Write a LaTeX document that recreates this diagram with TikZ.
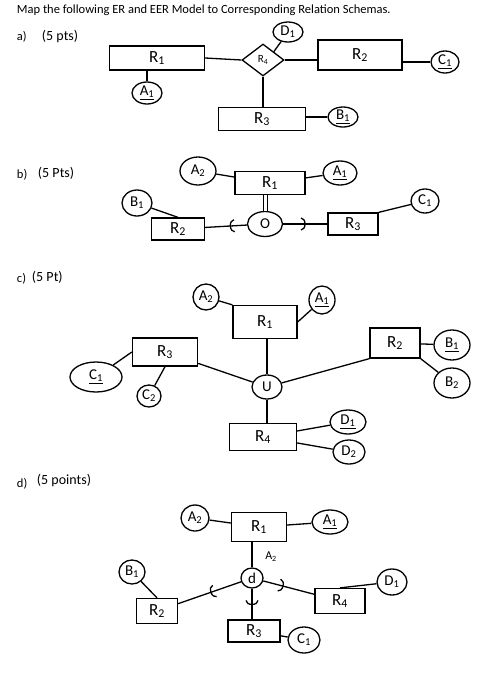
\documentclass[tikz,border=0pt]{standalone}
\usepackage{fontspec}
\setmainfont{Carlito}
\usetikzlibrary{shapes.geometric,decorations.markings}

\begin{document}
\begin{tikzpicture}[x=1pt, y=-1pt, line width=1.3pt,
    every node/.style={font=\fontsize{15}{17}\selectfont},
    ent/.style={draw, rectangle, inner sep=0, font=\fontsize{17}{19}\selectfont},
    att/.style={draw, ellipse, inner sep=0},
    sz/.style 2 args={minimum width=#1, minimum height=#2},
    txt/.style={font=\fontsize{12.5}{14}\selectfont, anchor=west},
    subarc/.style={postaction={decorate}, decoration={markings,
      mark=at position #1 with {\draw (-2pt,6pt) arc[start angle=90, end angle=-90, x radius=4pt, y radius=6pt];}}}]
  \useasboundingbox[fill=white] (0,0) rectangle (497,683);

  \node[txt] (title) at (13,10) {Map the following ER and EER Model to Corresponding Relation Schemas.};

  % a)
  \node[txt] (la) at (13,37) {a)};
  \node[txt, font=\fontsize{14}{16}\selectfont] (pa) at (38,37) {(5 pts)};
  \node[ent, sz={95}{24}] (aR1) at (157,58) {R\textsubscript{1}};
  \node[att, sz={30}{22}] (aA1) at (147,93) {\underline{A\textsubscript{1}}};
  \node[draw, diamond, inner sep=0, sz={42}{32}, font=\fontsize{11}{12}\selectfont] (aR4) at (263,60) {R\textsubscript{4}};
  \node[att, sz={30}{20}] (aD1) at (288,32) {D\textsubscript{1}};
  \node[ent, sz={84}{30}] (aR2) at (360,55) {R\textsubscript{2}};
  \node[att, sz={28}{22}] (aC1) at (445,62) {\underline{C\textsubscript{1}}};
  \node[ent, sz={87}{23}] (aR3) at (262,119) {R\textsubscript{3}};
  \node[att, sz={30}{20}] (aB1) at (343,117) {\underline{B\textsubscript{1}}};
  \draw (aA1) -- (aA1 |- aR1.south);
  \draw (aR1.east) -- (aR4.west);
  \draw (aR4.north east) -- (aD1);
  \draw (aR4.east) -- (aR4.east -| aR2.west);
  \draw (aR2.east |- aC1) -- (aC1);
  \draw (aR4.south) -- (aR4.south |- aR3.north);
  \draw (aR3.east |- aB1) -- (aB1);

  % b)
  \node[txt] (lb) at (13,175) {b)};
  \node[txt, font=\fontsize{14}{16}\selectfont] (pb) at (34,173) {(5 Pts)};
  \node[ent, sz={70}{23}] (bR1) at (270,183) {R\textsubscript{1}};
  \node[att, sz={36}{28}] (bA2) at (198,171) {A\textsubscript{2}};
  \node[att, sz={34}{24}] (bA1) at (340,173) {\underline{A\textsubscript{1}}};
  \node[att, sz={35}{25}] (bO) at (265,224) {O};
  \node[ent, sz={53}{22}] (bR2) at (178,229) {R\textsubscript{2}};
  \node[att, sz={30}{26}] (bB1) at (137,203) {B\textsubscript{1}};
  \node[ent, sz={50}{22}] (bR3) at (353,224) {R\textsubscript{3}};
  \node[att, sz={28}{24}] (bC1) at (425,201) {C\textsubscript{1}};
  \draw (bA2) -- (bR1);
  \draw (bR1) -- (bA1);
  \draw[double, double distance=3pt, line width=1pt] (bO.north |- bR1.south) -- (bO.north);
  \draw[subarc=0.35] (bO) -- (bR2);
  \draw[subarc=0.45] (bO) -- (bR3);
  \draw (bB1) -- (bR2.north);
  \draw (bR3.north east) -- (bC1);

  % c)
  \node[txt] (lc) at (13,279) {c)};
  \node[txt, font=\fontsize{14}{16}\selectfont] (pc) at (28,277) {(5 Pt)};
  \node[ent, sz={64}{33}] (cR1) at (265,322) {R\textsubscript{1}};
  \node[att, sz={26}{26}] (cA2) at (206,297) {A\textsubscript{2}};
  \node[att, sz={26}{28}] (cA1) at (322,300) {\underline{A\textsubscript{1}}};
  \node[att, sz={30}{24}] (cU) at (267,387) {U};
  \node[ent, sz={65}{28}] (cR3) at (165,352) {R\textsubscript{3}};
  \node[att, sz={52}{30}] (cC1) at (96,377) {\underline{C\textsubscript{1}}};
  \node[att, sz={24}{22}] (cC2) at (149,396) {C\textsubscript{2}};
  \node[ent, sz={50}{30}] (cR2) at (395,343) {R\textsubscript{2}};
  \node[att, sz={36}{30}] (cB1) at (452,345) {\underline{B\textsubscript{1}}};
  \node[att, sz={36}{30}] (cB2) at (452,383) {B\textsubscript{2}};
  \node[ent, sz={67}{27}] (cR4) at (263,437) {R\textsubscript{4}};
  \node[att, sz={36}{24}] (cD1) at (348,422) {\underline{D\textsubscript{1}}};
  \node[att, sz={32}{24}] (cD2) at (349,452) {D\textsubscript{2}};
  \draw (cA2) -- (cR1.north west);
  \draw (cR1.east) -- (cA1);
  \draw (cU.north |- cR1.south) -- (cU);
  \draw (cR3) -- (cU);
  \draw (cR3.west) -- (cC1);
  \draw (cR3.south) -- (cC2);
  \draw (cU) -- (cR2.south west);
  \draw (cR2) -- (cB1);
  \draw (cR2.south east) -- (cB2);
  \draw (cU) -- (cU |- cR4.north);
  \draw (cR4) -- (cD1);
  \draw (cR4) -- (cD2);

  % d)
  \node[txt] (ld) at (13,484) {d)};
  \node[txt, font=\fontsize{14}{16}\selectfont] (pd) at (33,481) {(5 points)};
  \node[ent, sz={55}{29}] (dR1) at (259,527) {R\textsubscript{1}};
  \node[att, sz={28}{26}] (dA2) at (195,518) {A\textsubscript{2}};
  \node[att, sz={36}{24}] (dA1) at (330,522) {\underline{A\textsubscript{1}}};
  \node[att, sz={22}{20}] (dd) at (252,578) {d};
  \node[font=\fontsize{12}{14}\selectfont] (dlab) at (271,557) {A\textsubscript{2}};
  \node[ent, sz={41}{25}] (dR2) at (157,611) {R\textsubscript{2}};
  \node[att, sz={26}{24}] (dB1) at (132,572) {B\textsubscript{1}};
  \node[ent, sz={50}{25}] (dR4) at (340,601) {R\textsubscript{4}};
  \node[att, sz={30}{26}] (dD1) at (392,582) {D\textsubscript{1}};
  \node[ent, sz={52}{22}] (dR3) at (254,631) {R\textsubscript{3}};
  \node[att, sz={32}{26}] (dC1) at (304,640) {C\textsubscript{1}};
  \draw (dA2) -- (dR1);
  \draw (dR1) -- (dA1);
  \draw (dd.north |- dR1.south) -- (dd.north);
  \draw[subarc=0.45] (dd) -- (dR2);
  \draw[subarc=0.35] (dd) -- (dR4);
  \draw[subarc=0.45] (dd) -- (dd |- dR3.north);
  \draw (dB1) -- (dR2.north);
  \draw (dR4.north) -- (dD1);
  \draw (dR3) -- (dC1);
\end{tikzpicture}
\end{document}
